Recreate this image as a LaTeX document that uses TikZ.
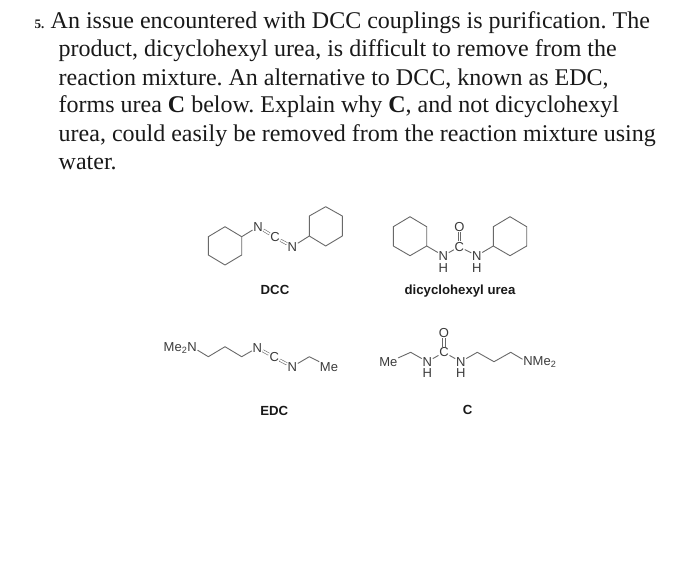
\documentclass[tikz,border=0pt]{standalone}
\usepackage{fontspec}
\setmainfont{Liberation Serif}
\newfontfamily\chemfont{Liberation Sans}
\definecolor{ink}{RGB}{25,25,25}
\definecolor{bondc}{RGB}{105,105,105}
\tikzset{
  txt/.style={anchor=base west,inner sep=0pt,font=\fontsize{24}{26}\selectfont,text=ink},
  num/.style={anchor=base west,inner sep=0pt,font=\bfseries\fontsize{13}{16}\selectfont,text=ink},
  atom/.style={inner sep=0.6pt,font=\chemfont\fontsize{13}{14}\selectfont,text=ink!85},
  caplab/.style={inner sep=0pt,font=\chemfont\bfseries\fontsize{13.2}{14}\selectfont,text=ink},
  bond/.style={draw=bondc,line width=0.9pt},
  thinb/.style={draw=bondc,line width=0.8pt},
  dbl/.style={draw=bondc,line width=0.6pt,double=white,double distance=1.7pt}
}
\begin{document}
\begin{tikzpicture}[x=1pt,y=-1pt]
\useasboundingbox[fill=white] (0,0) rectangle (700,575);
% text
\node[num] (t0) at (34.5,28.7) {5.};
\node[txt] (t1) at (50.5,28.7) {\frenchspacing An issue encountered with DCC couplings is purification. The};
\node[txt] (t2) at (58.5,56.7) {product, dicyclohexyl urea, is difficult to remove from the};
\node[txt] (t3) at (58.5,85) {\frenchspacing reaction mixture. An alternative to DCC, known as EDC,};
\node[txt] (t4) at (58.5,113) {\frenchspacing forms urea \textbf{C} below. Explain why \textbf{C}, and not dicyclohexyl};
\node[txt] (t5) at (58.5,141.7) {urea, could easily be removed from the reaction mixture using};
\node[txt] (t6) at (58.5,169.5) {water.};
% DCC
\foreach \n/\x/\y in {a1/225/226.7,a2/241.7/236.7,a3/241.7/255,a4/225/265,a5/208.3/255,a6/208.3/236.7,
  b1/325.7/206.7,b2/342.3/216,b3/342.3/236,b4/325.7/246,b5/309.3/236,b6/309.3/216}
  \coordinate (\n) at (\x,\y);
\draw[bond,line join=round] (a1)--(a2)--(a3)--(a4)--(a5)--(a6)--cycle;
\draw[bond,line join=round] (b1)--(b2)--(b3)--(b4)--(b5)--(b6)--cycle;
\node[atom] (dn1) at (258,226.7) {N};
\node[atom] (dc) at (275,237.3) {C};
\node[atom] (dn2) at (292.3,246.7) {N};
\draw[bond] (a2)--(dn1);
\draw[bond] (b5)--(dn2);
\draw[dbl] (dn1)--(dc);
\draw[dbl] (dc)--(dn2);
\node[caplab] (dcc) at (275,290) {DCC};
% urea
\foreach \n/\x/\y in {c1/410/216.7,c2/426.7/226.7,c3/426.7/246,c4/410/255.7,c5/393.3/246,c6/393.3/226.7,
  e1/510/216.7,e2/526.7/226.7,e3/526.7/246,e4/510/255.7,e5/493.3/246,e6/493.3/226.7}
  \coordinate (\n) at (\x,\y);
\draw[bond,line join=round] (c1)--(c2)--(c3)--(c4)--(c5)--(c6)--cycle;
\draw[bond,line join=round] (e1)--(e2)--(e3)--(e4)--(e5)--(e6)--cycle;
\node[atom] (un1) at (443.3,255.7) {N};
\node[atom] (uh1) at (443.3,267.7) {H};
\node[atom] (uc) at (459.3,246.7) {C};
\node[atom] (uo) at (459.3,226.7) {O};
\node[atom] (un2) at (476.7,255.7) {N};
\node[atom] (uh2) at (476.7,267.7) {H};
\draw[bond] (c3)--(un1);
\draw[bond] (un1)--(uc);
\draw[bond] (uc)--(un2);
\draw[bond] (un2)--(e5);
\draw[thinb] ([xshift=-1.4pt]uc.north) -- ([xshift=-1.4pt]uo.south);
\draw[thinb] ([xshift=1.4pt]uc.north) -- ([xshift=1.4pt]uo.south);
\node[caplab] (ulab) at (460,290.7) {dicyclohexyl urea};
% EDC
\foreach \n/\x/\y in {f1/208.3/356.7,f2/225/346.7,f3/241.7/356.7,f4/309.3/356.7}
  \coordinate (\n) at (\x,\y);
\node[atom,anchor=east] (en0) at (197.5,347.7) {Me\textsubscript{2}N};
\node[atom] (en1) at (257.3,347.7) {N};
\node[atom] (ec) at (274.3,357.3) {C};
\node[atom] (en2) at (292.3,366.7) {N};
\node[atom] (eme) at (329,366.7) {Me};
\draw[bond,line join=round] (en0.-8)--(f1)--(f2)--(f3)--(en1);
\draw[dbl] (en1)--(ec);
\draw[dbl] (ec)--(en2);
\draw[bond,line join=round] (en2)--(f4)--(eme);
\node[caplab] (elab) at (274.3,410.7) {EDC};
% C
\foreach \n/\x/\y in {g1/410.7/352.3,g2/477.3/352.3,g3/494/361.7,g4/510.7/352.3}
  \coordinate (\n) at (\x,\y);
\node[atom] (cme) at (388.3,362.3) {Me};
\node[atom] (cn1) at (427.3,361.7) {N};
\node[atom] (ch1) at (427.3,373.3) {H};
\node[atom] (cc) at (444,352.3) {C};
\node[atom] (co) at (444,332.7) {O};
\node[atom] (cn2) at (460.7,361.7) {N};
\node[atom] (ch2) at (460.7,373.3) {H};
\node[atom,anchor=west] (cn3) at (522.5,361.7) {NMe\textsubscript{2}};
\draw[bond,line join=round] (cme)--(g1)--(cn1);
\draw[bond] (cn1)--(cc);
\draw[bond] (cc)--(cn2);
\draw[thinb] ([xshift=-1.4pt]cc.north) -- ([xshift=-1.4pt]co.south);
\draw[thinb] ([xshift=1.4pt]cc.north) -- ([xshift=1.4pt]co.south);
\draw[bond,line join=round] (cn2)--(g2)--(g3)--(g4)--(cn3.172);
\node[caplab] (clab) at (467.7,410) {C};
\end{tikzpicture}
\end{document}
